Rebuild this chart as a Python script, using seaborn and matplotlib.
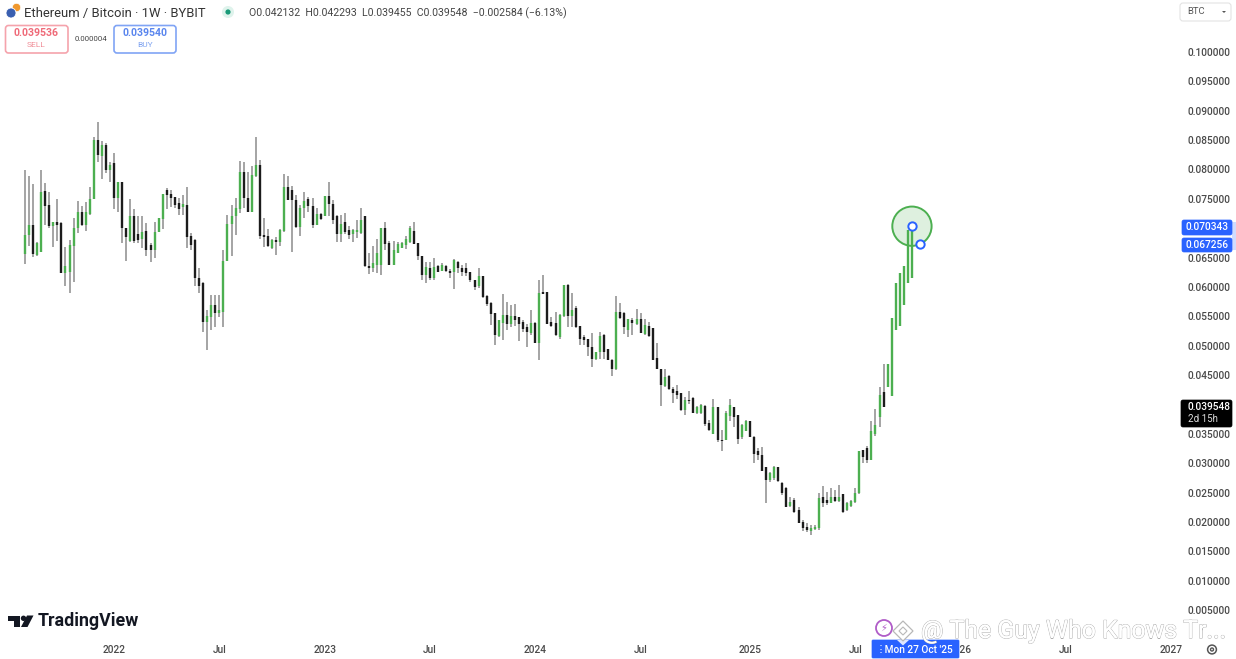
import numpy as np
import pandas as pd
import matplotlib
matplotlib.use('Agg')
import matplotlib.pyplot as plt
import matplotlib.patheffects as pe
from matplotlib.patches import Circle, FancyBboxPatch, Polygon, Rectangle
from matplotlib.transforms import Affine2D
import seaborn as sns

# weekly ETH/BTC candles, prices in thousandths of BTC
opens = [65.6,68.9,70.6,65.5,65.9,76.3,74.0,70.3,71.1,70.9,
         62.3,62.5,67.0,70.0,72.8,70.6,72.4,74.9,85.0,82.3,
         84.2,79.9,81.1,75.1,77.8,70.0,67.9,72.1,69.0,68.1,
         69.6,67.2,66.3,69.4,71.5,76.5,75.9,75.3,74.3,73.6,
         74.0,68.6,68.0,61.5,60.6,54.0,54.9,57.0,55.5,55.8,
         64.5,70.7,72.0,73.2,79.5,75.1,72.8,78.9,80.8,68.9,
         68.7,66.6,68.0,67.7,69.6,77.0,76.5,74.8,70.2,73.4,
         74.9,73.7,70.5,72.4,72.1,75.5,74.2,72.0,69.1,71.1,
         69.7,69.0,69.4,69.2,72.0,63.6,63.2,63.7,63.7,70.0,
         67.5,63.7,65.8,66.7,67.1,67.7,69.6,67.5,65.3,62.0,
         63.3,61.6,63.6,62.7,63.6,62.7,62.6,64.3,63.3,63.2,
         62.6,61.2,60.1,61.9,58.5,57.3,55.5,51.6,53.8,55.2,
         53.7,55.0,54.9,54.1,53.2,52.1,53.9,50.5,59.2,59.2,
         54.0,53.8,51.4,55.0,60.3,55.0,56.4,53.3,51.4,51.1,
         49.8,47.7,49.0,51.8,49.4,47.6,46.0,55.8,55.6,52.7,
         54.4,53.7,54.5,52.0,53.3,53.0,47.9,46.1,43.1,44.8,
         42.7,42.3,41.9,39.1,40.8,41.1,38.5,38.6,39.7,36.8,
         35.0,39.6,34.0,34.0,38.0,39.6,38.2,34.4,35.5,37.1,
         34.5,32.0,31.4,29.3,27.1,27.4,29.3,26.7,25.7,22.7,
         23.7,22.0,20.0,19.2,18.4,18.8,18.9,24.3,23.7,23.3,
         24.2,23.6,24.8,22.0,22.7,23.4,24.9,32.2,32.5,30.5,
         35.0,37.9,42.2,43.0,41.4,52.6,53.3,56.9,60.7,61.6]
highs = [79.9,78.9,77.5,67.7,79.9,77.7,76.1,71.0,74.9,71.0,
         66.8,68.0,71.7,74.7,73.7,74.4,77.0,85.6,88.1,84.9,
         84.5,81.3,82.8,77.9,77.8,70.0,74.9,73.2,72.0,72.1,
         70.9,67.5,71.0,71.7,75.9,76.8,76.5,75.3,75.1,75.7,
         77.0,69.2,68.1,63.2,60.9,56.1,58.7,58.7,58.7,66.3,
         72.3,74.0,75.1,81.5,81.2,79.5,80.6,85.6,81.6,71.7,
         69.8,68.1,68.5,69.8,79.2,78.9,77.2,75.7,74.0,76.1,
         75.3,75.1,73.5,72.6,75.5,77.9,74.8,72.2,72.2,72.6,
         70.3,69.8,71.4,73.5,72.0,65.7,67.0,68.1,70.0,71.1,
         67.9,67.9,67.7,67.7,68.7,70.3,71.1,67.5,65.3,64.3,
         64.3,64.9,63.7,64.0,63.7,63.0,64.7,64.5,63.7,64.1,
         62.6,61.2,63.2,61.9,58.6,57.5,55.5,54.4,58.8,57.5,
         56.9,57.1,54.9,54.4,53.7,56.1,54.1,61.2,62.0,59.2,
         54.9,55.8,55.4,60.3,60.5,58.9,56.8,53.3,51.8,51.2,
         52.1,49.0,52.4,52.0,49.5,47.8,58.5,57.3,55.8,54.6,
         54.8,56.2,55.5,54.5,54.1,53.0,50.4,46.1,46.0,45.0,
         43.0,43.3,41.9,41.3,42.3,41.2,39.7,40.1,39.9,37.3,
         41.0,39.6,35.6,38.8,40.9,39.6,38.2,36.7,37.3,37.1,
         34.6,32.5,32.7,29.4,28.5,29.5,29.3,26.8,25.9,24.3,
         24.0,22.6,20.3,19.8,19.5,19.5,24.9,26.1,25.1,25.7,
         25.4,26.3,24.8,23.4,23.8,25.7,32.1,32.3,32.9,37.1,
         39.3,43.0,46.9,46.9,54.7,60.6,62.3,63.5,69.7,69.7]
lows = [63.9,66.9,65.1,65.3,65.9,70.6,70.0,66.8,67.9,62.3,
        60.1,58.9,60.9,69.2,70.3,69.6,72.3,74.9,81.2,78.3,
        79.4,77.9,73.2,72.8,67.5,64.5,67.6,67.5,67.5,66.6,
        65.2,64.2,64.9,69.3,69.8,73.2,73.6,73.4,72.3,72.3,
        66.6,66.3,60.1,58.9,52.4,49.2,52.7,53.2,54.9,53.2,
        64.5,65.2,68.9,72.6,73.4,72.8,72.8,78.8,68.1,66.8,
        66.8,66.4,65.5,67.0,69.4,74.8,66.0,70.0,68.7,71.7,
        72.8,70.0,70.5,71.4,72.1,72.0,70.8,67.7,67.7,69.1,
        68.1,67.7,68.3,69.1,63.4,62.2,62.6,62.4,62.0,66.3,
        63.7,63.7,65.7,66.6,66.4,67.5,67.3,64.6,61.2,60.6,
        61.2,61.2,62.6,62.7,62.6,61.5,59.6,62.3,61.9,61.9,
        60.9,59.5,59.9,58.2,56.8,53.5,50.1,51.5,51.0,52.6,
        53.2,53.4,50.8,52.4,49.8,51.8,50.4,47.6,58.8,53.7,
        53.1,51.7,51.1,54.9,53.2,53.1,53.0,50.1,50.1,48.2,
        46.3,47.6,47.7,47.7,47.5,44.8,45.9,54.6,52.0,51.5,
        51.8,53.5,52.1,51.8,51.5,47.5,46.0,39.7,43.0,42.5,
        40.3,40.9,38.8,38.2,40.1,38.5,38.4,38.4,36.3,35.5,
        35.0,33.6,32.0,34.0,37.1,36.2,33.3,34.2,35.4,34.4,
        30.0,30.5,28.6,23.2,26.8,27.2,26.8,24.6,22.5,22.6,
        21.6,19.8,18.5,18.3,17.8,18.6,18.7,22.6,22.9,23.2,
        23.4,23.4,21.5,21.9,22.6,23.3,24.7,30.0,30.0,30.5,
        34.6,36.2,39.5,43.0,41.4,52.6,53.3,56.9,60.7,61.6]
closes = [68.9,70.6,65.6,67.5,76.2,73.8,70.3,71.0,70.6,62.3,
          63.5,67.2,70.0,72.8,70.6,72.7,74.9,85.0,82.5,84.2,
          79.9,80.8,75.1,77.9,70.0,68.5,72.1,67.9,68.0,69.4,
          66.3,66.3,69.4,71.7,75.9,75.7,75.1,74.0,73.2,74.1,
          68.5,67.2,61.5,60.2,54.0,55.0,57.0,55.5,56.1,64.5,
          70.7,72.1,73.4,79.5,75.1,72.8,79.1,80.8,68.6,68.5,
          67.0,68.0,67.7,69.7,77.0,74.8,74.8,70.2,73.4,74.7,
          73.7,70.6,72.5,71.5,75.5,74.2,71.4,69.1,70.8,69.4,
          68.8,69.7,69.7,71.4,63.6,63.2,64.0,65.7,70.0,67.3,
          63.7,66.3,67.3,67.5,68.2,70.1,67.3,65.3,62.0,63.4,
          61.6,63.4,62.6,63.7,62.7,62.4,64.6,63.3,62.6,62.4,
          61.1,60.0,61.9,58.3,57.1,55.4,51.8,54.3,55.2,53.7,
          55.0,54.4,53.7,52.8,52.4,53.9,50.5,58.9,58.8,53.7,
          53.4,51.8,55.2,60.3,55.0,56.1,53.1,51.2,50.9,49.8,
          47.8,49.0,51.6,49.0,47.6,46.1,55.8,54.8,53.1,54.5,
          53.9,54.5,52.2,53.5,51.6,47.6,46.0,43.3,44.7,42.6,
          42.0,41.6,39.1,40.8,40.6,38.6,39.6,39.9,36.7,35.6,
          39.6,33.9,33.7,38.6,39.9,37.9,34.2,36.5,37.2,34.5,
          31.6,31.4,28.7,27.1,28.3,29.4,26.9,24.9,22.6,23.4,
          21.7,19.9,18.9,18.6,18.9,19.1,24.0,23.3,23.2,24.2,
          23.6,24.3,21.7,23.3,23.6,25.0,32.0,31.0,30.5,35.4,
          36.5,41.6,39.5,46.9,54.7,60.6,62.3,63.5,69.7,69.7]

first_week = '2021-08-02'
tick_dates = ['2022-01-03','2022-07-04','2023-01-02','2023-07-03','2024-01-01','2024-07-01',
              '2025-01-06','2025-07-07','2026-01-05','2026-07-06','2027-01-04']
tick_names = ['2022','Jul','2023','Jul','2024','Jul','2025','Jul','2026','Jul','2027']
price_ticks = [0.005,0.010,0.015,0.020,0.025,0.030,0.035,0.045,0.050,0.055,0.060,
               0.065,0.075,0.080,0.085,0.090,0.095,0.100]
# drawn position markers (week, price)
marker_weeks = [219, 221]
marker_prices = [0.070343, 0.067256]

GREEN = '#4caf50'
BLUE = '#2962ff'
TEXT = '#4a4a4a'

sns.set_theme(style='white')
plt.rcParams['font.family'] = ['Roboto', 'DejaVu Sans']

fig = plt.figure(figsize=(12.36, 6.59), dpi=100)
ax = fig.add_axes([0, 21 / 659, 1178 / 1236, 638 / 659])

weeks = np.arange(len(opens))
candles = pd.DataFrame({'week': weeks, 'open': np.array(opens) / 1000, 'high': np.array(highs) / 1000,
                        'low': np.array(lows) / 1000, 'close': np.array(closes) / 1000})
candles['side'] = np.where(candles['close'] >= candles['open'], 'up', 'down')

wicks = candles.melt(id_vars='week', value_vars=['high', 'low'], value_name='price')
bodies = candles.melt(id_vars=['week', 'side'], value_vars=['open', 'close'], value_name='price')

sns.lineplot(data=wicks, x='week', y='price', units='week', estimator=None, color='#999999',
             linewidth=1.25, solid_capstyle='butt', legend=False, ax=ax, zorder=2)
sns.lineplot(data=bodies, x='week', y='price', units='week', estimator=None, hue='side',
             palette={'up': GREEN, 'down': '#1c1c1c'}, linewidth=1.7, solid_capstyle='butt',
             legend=False, ax=ax, zorder=3)

# highlight circle and the two blue position dots
sns.scatterplot(x=marker_weeks[:1], y=marker_prices[:1], s=800, color=GREEN, alpha=0.18,
                linewidth=0, legend=False, ax=ax, zorder=4)
sns.scatterplot(x=marker_weeks[:1], y=marker_prices[:1], s=800, facecolor='none', edgecolor=GREEN,
                linewidth=1.4, legend=False, ax=ax, zorder=4)
sns.scatterplot(x=marker_weeks, y=marker_prices, s=36, facecolor='white', edgecolor=BLUE,
                linewidth=1.4, legend=False, ax=ax, zorder=5)

start = pd.Timestamp(first_week)
tick_pos = [(pd.Timestamp(d) - start).days / 7 for d in tick_dates]
ax.set_xticks(tick_pos, tick_names)
ax.set_yticks(price_ticks, [f'{p:.6f}' for p in price_ticks])
ax.yaxis.tick_right()
ax.set_xlim(-25 / 4.05, 1153 / 4.05)
ax.set_ylim(0.00024, 0.10885)
ax.set_xlabel('')
ax.set_ylabel('')
ax.tick_params(axis='x', length=0, pad=5, labelsize=7.3, labelcolor=TEXT)
ax.tick_params(axis='y', length=0, pad=7, labelsize=7.3, labelcolor=TEXT)
for lab in ax.get_xticklabels() + ax.get_yticklabels():
    lab.set_fontweight('medium')
sns.despine(ax=ax, left=True, bottom=True, top=True, right=True)

# everything below is chart furniture placed in image pixels
px = Affine2D().scale(1 / 1236, -1 / 659).translate(0, 1) + fig.transFigure


def label(x, y, s, size=7.3, color=TEXT, ha='left', weight='normal', **kw):
    kw.setdefault('zorder', 7)
    return fig.text(x, y, s, transform=px, fontsize=size, color=color, ha=ha, va='center',
                    fontweight=weight, **kw)


def box(x0, y0, x1, y1, face, edge, lw=1.0, r=3):
    fig.add_artist(FancyBboxPatch((x0, y0), x1 - x0, y1 - y0, boxstyle=f'round,pad=0,rounding_size={r}',
                                  transform=px, facecolor=face, edgecolor=edge, linewidth=lw, zorder=6))


# header
fig.add_artist(Circle((16.5, 7.5), 4.2, transform=px, facecolor='#f0982e', edgecolor='white', lw=0.5))
fig.add_artist(Circle((11, 13), 5, transform=px, facecolor='#3a5fb0', edgecolor='white', lw=0.6))
label(24, 13, 'Ethereum / Bitcoin · 1W · BYBIT', size=9.4, color='#333333')
fig.add_artist(Circle((228, 12), 6, transform=px, facecolor='#dff3ec', edgecolor='none'))
fig.add_artist(Circle((228, 12), 2.6, transform=px, facecolor='#1a9a78', edgecolor='none'))
label(249, 13, 'O0.042132  H0.042293  L0.039455  C0.039548  −0.002584 (−6.13%)', size=7.55, color='#444444')

# sell / buy buttons
box(5.5, 25.5, 68, 53, 'white', '#f5a3ac', lw=1.2)
label(36.5, 33, '0.039536', size=7.6, color='#ef6a78', ha='center', weight='bold')
label(36.5, 45, 'SELL', size=6, color='#f08c96', ha='center')
label(90.5, 39, '0.000004', size=5.6, color='#444444', ha='center')
box(114, 25.5, 176, 53, 'white', '#80a4f5', lw=1.2)
label(145, 33, '0.039540', size=7.6, color='#5a86ee', ha='center', weight='bold')
label(145, 45, 'BUY', size=6, color='#7fa3f0', ha='center')

# currency selector
box(1180, 3, 1231, 21, 'white', '#e3e3e3', lw=0.8)
label(1187, 12, 'BTC', size=6.8, color='#555555')
fig.add_artist(Polygon([(1222, 11), (1226, 11), (1224, 13)], transform=px, facecolor='#555555',
                       edgecolor='none', zorder=7))

# price scale tags
fig.add_artist(Rectangle((1232, 222), 4, 28, transform=px, facecolor='#cfdcff', edgecolor='none'))
box(1182, 220, 1232, 235, BLUE, BLUE, lw=0.5, r=2)
label(1207, 227.5, '0.070343', color='white', ha='center', weight='medium')
box(1182, 238, 1232, 252, BLUE, BLUE, lw=0.5, r=2)
label(1207, 245, '0.067256', color='white', ha='center', weight='medium')
box(1181, 400, 1232, 427, 'black', 'black', lw=0.5, r=2)
label(1188, 407.5, '0.039548', color='white', weight='medium')
label(1188, 419.5, '2d 15h', color='#dddddd', size=7)

# TradingView logo
fig.add_artist(Polygon([(8, 615.5), (20, 615.5), (20, 627), (14, 627), (14, 621), (8, 621)], transform=px,
                       facecolor='#131722', edgecolor='none'))
fig.add_artist(Circle((23.5, 618.3), 2.7, transform=px, facecolor='#131722', edgecolor='none'))
fig.add_artist(Polygon([(27, 615.5), (33.5, 615.5), (27.5, 627), (21, 627)], transform=px,
                       facecolor='#131722', edgecolor='none'))
label(38, 621.5, 'TradingView', size=12.8, color='#131722', weight='bold')

# watermark and crosshair date tag
fig.add_artist(Circle((884, 628), 8, transform=px, facecolor='white', edgecolor='#b05cc8', lw=1.3))
label(884, 628, '⚡', size=7, color='#b05cc8', ha='center', family=['DejaVu Sans'])
box(872, 640, 959, 658, BLUE, BLUE, lw=0.5, r=1)
fig.add_artist(Polygon([(903, 621), (913, 631), (903, 641), (893, 631)], transform=px, facecolor='white',
                       edgecolor='#b8b8b8', lw=0.9, zorder=7))
fig.add_artist(Polygon([(903, 627), (907, 631), (903, 635), (899, 631)], transform=px, facecolor='white',
                       edgecolor='#b8b8b8', lw=0.8, zorder=7))
fig.add_artist(Polygon([(897, 640), (909, 640), (903, 645.5)], transform=px, facecolor='#dfe8ff',
                       edgecolor='none', zorder=6.5))
label(880, 650, "⁝ Mon 27 Oct '25", color='white', size=7.3, family=['Roboto', 'DejaVu Sans'], weight='medium', zorder=7)
mark = label(921, 631, '@ The Guy Who Knows Tr...', size=17.9, color='white', zorder=8)
mark.set_path_effects([pe.withStroke(linewidth=0.8, foreground='#b0b0b0'), pe.Normal()])

# settings gear
fig.add_artist(Circle((1212, 649.5), 4.4, transform=px, facecolor='white', edgecolor='#555555', lw=1.1))
fig.add_artist(Circle((1212, 649.5), 1.5, transform=px, facecolor='white', edgecolor='#555555', lw=1.0))

fig.savefig('out.png', dpi=100)
